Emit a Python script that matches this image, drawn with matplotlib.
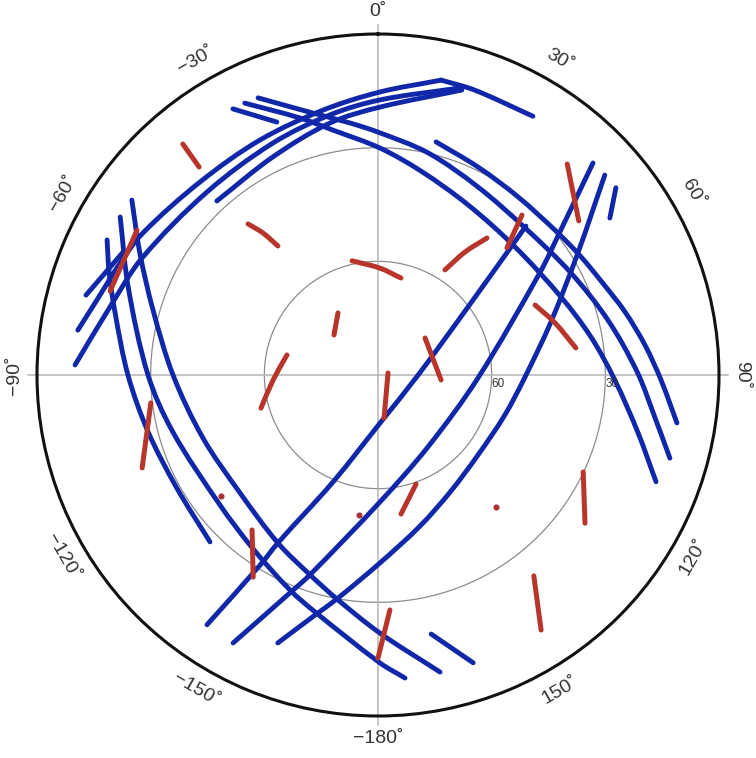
import numpy as np
import matplotlib
matplotlib.use('Agg')
import matplotlib.pyplot as plt
from matplotlib.path import Path
from matplotlib.patches import PathPatch
from matplotlib.transforms import IdentityTransform

plt.rcParams['font.family'] = ['Liberation Sans', 'DejaVu Sans']

# azimuth (deg) and elevation (deg) of every track
blue_az = [
    [-74.7, -64.3],
    [-81.5, -74.6, -66.5, -58.9, -42.7, -26.7, -11.7, 0.4, 12.1],
    [-88.1, -75.8, -63.6, -43.1, -24.4, -10.5, 0.4, 16.1],
    [-42.8, -25.7, -10.8, 0.4, 16.4],
    [-28.6, -21.8],
    [12.1, 18.8, 30.9],
    [-26.1, -16.9, -10.4, 0.5, 11.9, 27.9, 46.9, 66.9, 79.9, 91.2, 102.4, 111.0],
    [-23.4, -13.9, -6.3, 0, 12.7, 28.0, 45, 62.1, 76.6, 89.3, 98.8, 105.9],
    [14.0, 25.7, 38.2, 51.7, 59.8, 67.8, 75.7, 83.6, 91.0, 99.1],
    [-145.6, -148.2, -149.2, -157.2, 177.6, 90, 52.9, 46.1, 44.8],
    [-151.6, -158, -161.2, 179.1, 145.2, 91.7, 57.6, 51.8, 45.4],
    [-159.5, -165.3, -169.6, 179.4, 164.5, 148.4, 128.7, 107.5, 90.8, 73, 58.6, 48.6],
    [55.9, 51.8],
    [-63.5, -69.2, -76.7, -90, -103.9, -119.3, -134.8],
    [-58.5, -70.6, -90, -105.5, -129.4, -144.3, -157.7, -165.1, 179.6, 174.9],
    [-54.6, -62.9, -73.9, -90, -109.8, -130.5, -149.2, -161.2, -169.6, 179.6, 168.2],
    [168.4, 161.7],
]
blue_el = [
    [10.1, 15.3],
    [9.9, 13.4, 15.8, 17.5, 20.7, 20.6, 18.6, 15.3, 10.4],
    [10.0, 17.0, 20.5, 23.9, 22.8, 20.2, 17.4, 11.1],
    [27.4, 26.1, 22.3, 19.3, 11.6],
    [10.0, 18.1],
    [10.4, 10.6, 10.4],
    [10.1, 19.1, 24.3, 30.1, 35.0, 39.2, 40.5, 37.5, 32.9, 27.5, 19.8, 11.4],
    [10.3, 18.8, 23.1, 25.9, 29.9, 33.8, 35.1, 32.4, 27.6, 21.6, 16.0, 9.9],
    [26.6, 29.1, 30.2, 29.5, 28.0, 25.9, 22.7, 19.1, 15.3, 10.1],
    [10.1, 31.0, 38.4, 59.4, 77.3, 79.4, 60.2, 41.3, 34.6],
    [9.6, 28.0, 34.3, 56.5, 66.9, 63.6, 39.3, 28.9, 10.3],
    [14.5, 24.5, 29.9, 40.4, 48.6, 53.7, 56.2, 54.9, 51.2, 42.3, 28.2, 10.2],
    [16.1, 10.1],
    [10.1, 14.1, 18.7, 24.0, 27.5, 29.1, 27.5],
    [10.2, 20.1, 29.3, 33.8, 36.0, 33.5, 28.7, 25.3, 14.0, 9.7],
    [10.3, 19.4, 28.2, 35.9, 40.9, 42.1, 38.4, 34.3, 29.9, 21.9, 9.9],
    [20.2, 10.0],
]
red_az = [
    [-40.2, -40.7],
    [-40.7, -39, -37.8],
    [-59, -72.6],
    [-12.8, 1.1, 13.3],
    [-32.8, -47.7],
    [-77.6, -92.7, -105.8],
    [-97, -111.5],
    [-140.9, -148.3],
    [32.5, 35.3, 38.5],
    [42, 45.4],
    [41.9, 52.5],
    [66, 73.6, 82.2],
    [51.8, 94.5],
    [78.7, 172],
    [160.8, 170.6],
    [115.3, 125.6],
    [142.2, 147.4],
    [177.1, 180],
]
red_el = [
    [10.2, 17.6],
    [37.4, 41.8, 46.9],
    [15.8, 15.9],
    [59.1, 61.8, 63.7],
    [70.5, 74.3],
    [65.4, 62.3, 57.9],
    [29.6, 23.1],
    [37.3, 27.3],
    [57.1, 50.2, 43.8],
    [33.2, 42.2],
    [15.2, 23.2],
    [44.6, 41.3, 37.3],
    [74.2, 73.3],
    [87.3, 78.5],
    [59.5, 52.8],
    [30.1, 22.8],
    [22.9, 10.1],
    [27.9, 15.3],
]
dot_az = [-127.6, -172.3, 138.2]
dot_el = [37.7, 52.7, 43.3]

tick_az = [0, 30, 60, 90, 120, 150, 180, -150, -120, -90, -60, -30]
tick_labels = ['0˚', '30˚', '60˚', '90˚', '120˚', '150˚', '\u2212180˚',
               '\u2212150˚', '\u2212120˚', '\u221290˚', '\u221260˚', '\u221230˚']
tick_rot = [0, -30, -60, -90, 60, 30, 0, -30, -60, 90, 60, 30]
ring_el = [30, 60]


def rad(a):
    # keep everything inside 0..360 so the axes stay a full circle
    return np.radians(np.array(a, dtype=float) % 360)


def draw_track(ax, az, el, color, lw, z):
    # bezier through the read points, the tracks are smooth arcs not polygons
    p = ax.transData.transform(np.column_stack([rad(az), el]))
    n = len(p)
    tang = np.zeros_like(p)
    tang[0] = p[1] - p[0]
    tang[-1] = p[-1] - p[-2]
    for i in range(1, n - 1):
        tang[i] = p[i + 1] - p[i - 1]
    tang = tang / np.linalg.norm(tang, axis=1, keepdims=True)
    verts = [p[0]]
    codes = [Path.MOVETO]
    for i in range(n - 1):
        d = np.linalg.norm(p[i + 1] - p[i]) / 3
        verts += [p[i] + tang[i] * d, p[i + 1] - tang[i + 1] * d, p[i + 1]]
        codes += [Path.CURVE4, Path.CURVE4, Path.CURVE4]
    ax.add_patch(PathPatch(Path(verts, codes), fill=False, edgecolor=color, lw=lw,
                           capstyle='round', joinstyle='round', zorder=z,
                           transform=IdentityTransform()))


fig = plt.figure(figsize=(7.56, 7.58), dpi=100)
ax = fig.add_axes([37 / 756, 42 / 758, 682 / 756, 682 / 758], projection='polar')
ax.set_theta_zero_location('N')
ax.set_theta_direction(-1)
ax.set_thetalim(0, 2 * np.pi)
ax.set_rlim(90, 0)
ax.grid(False)

th = np.linspace(0, 2 * np.pi, 361)
for el in ring_el:
    ax.plot(th, np.full_like(th, el), color='#8c8c8c', lw=0.9, zorder=1)

# cross through the zenith, slightly past the rim
for az in [0, 90, 180, -90]:
    ax.plot(rad([az, az]), [90, -2.3], color='#b5b5b5', lw=1.1, zorder=1, clip_on=False)

for az, el in zip(blue_az, blue_el):
    draw_track(ax, az, el, '#0f27a8', 3.5, 3)
for az, el in zip(red_az, red_el):
    draw_track(ax, az, el, '#b8352b', 3.6, 4)
ax.plot(rad(dot_az), dot_el, 'o', color='#a83038', ms=3.4, zorder=4)

for az, lab, rot in zip(tick_az, tick_labels, tick_rot):
    ax.text(rad(az), -6, lab, fontsize=14, color='#333333', rotation=rot,
            ha='center', va='center', rotation_mode='anchor', clip_on=False)

ax.text(rad(94.3), 58.3, '60', fontsize=8.5, color='#333333', ha='center', va='center')
ax.text(rad(92.2), 28.2, '30', fontsize=8.5, color='#333333', ha='center', va='center')

ax.set_thetalim(0, 2 * np.pi)
ax.set_rlim(90, 0)
ax.spines['polar'].set_linewidth(2.2)
ax.spines['polar'].set_color('#111111')
ax.set_xticks(rad(tick_az))
ax.set_xticklabels([])
ax.set_yticks([])
ax.tick_params(axis='x', direction='out', length=5, width=0.8, color='#555555')

fig.savefig('out.png', dpi=100)
